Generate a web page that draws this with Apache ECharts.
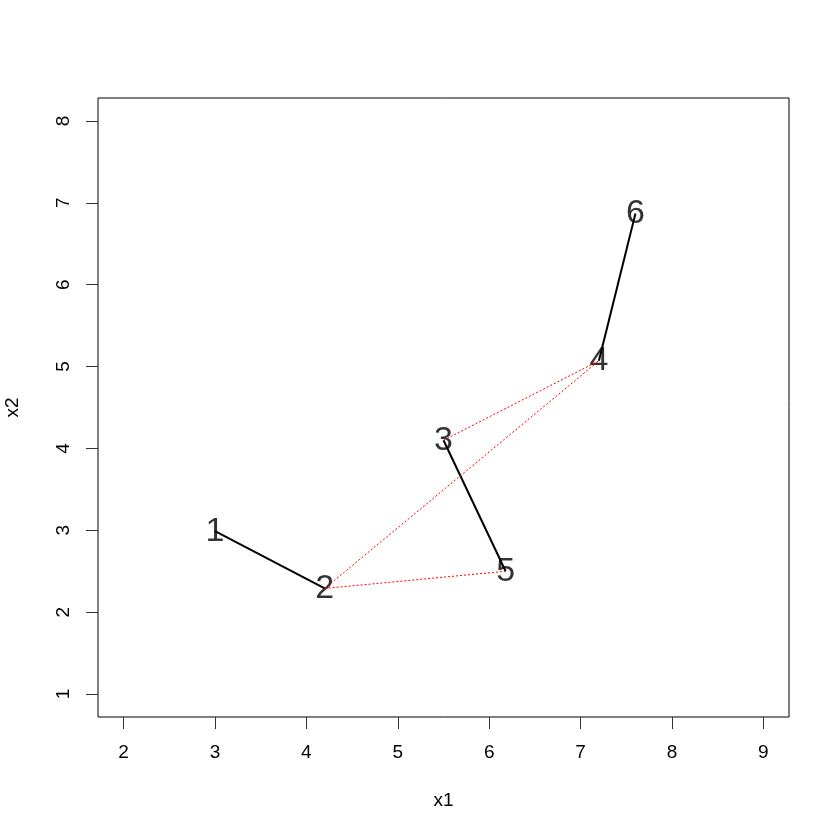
<!DOCTYPE html>
<html>
<head>
<meta charset="utf-8">
<script src="https://cdn.jsdelivr.net/npm/echarts@6/dist/echarts.min.js"></script>
<style>
html,body{margin:0;padding:0;background:#fff;}
#chart{width:840px;height:840px;}
</style>
</head>
<body>
<div id="chart"></div>
<script>
// Point data
const pointLabels = ['1', '2', '3', '4', '5', '6'];
const x1 = [3.0, 4.2, 5.5, 7.2, 6.18, 7.6];
const x2 = [2.99, 2.29, 4.1, 5.07, 2.5, 6.87];
// Segments (indices into the point arrays)
const solidPairs = [[0, 1], [2, 4], [3, 5]];
const dottedPairs = [[1, 3], [1, 4], [2, 3]];
// Tick labels
const xTicks = [2, 3, 4, 5, 6, 7, 8, 9];
const yTicks = [1, 2, 3, 4, 5, 6, 7, 8];

const FONT = 'Liberation Sans, Arial, Helvetica, sans-serif';

const series = [];
series.push({
  type: 'scatter',
  data: x1.map((v, i) => [v, x2[i], pointLabels[i]]),
  symbolSize: 1,
  itemStyle: { color: 'rgba(0,0,0,0)' },
  label: {
    show: true,
    position: 'inside',
    formatter: p => p.data[2],
    fontSize: 34,
    color: '#000',
    fontFamily: FONT
  },
  z: 2,
  silent: true
});
solidPairs.forEach(([a, b]) => {
  series.push({
    type: 'line',
    data: [[x1[a], x2[a]], [x1[b], x2[b]]],
    symbol: 'none',
    lineStyle: { color: '#000', width: 2 },
    z: 3,
    silent: true
  });
});
dottedPairs.forEach(([a, b]) => {
  series.push({
    type: 'line',
    data: [[x1[a], x2[a]], [x1[b], x2[b]]],
    symbol: 'none',
    lineStyle: { color: '#ff0000', width: 1, type: [2, 2] },
    z: 4,
    silent: true
  });
});

const chart = echarts.init(document.getElementById('chart'), null, { renderer: 'canvas' });
chart.setOption({
  backgroundColor: '#fff',
  animation: false,
  grid: {
    left: 98, right: 51, top: 98, bottom: 123,
    containLabel: false,
    outerBoundsMode: 'none',
    show: true, borderColor: '#000', borderWidth: 1, backgroundColor: 'transparent'
  },
  xAxis: {
    type: 'value',
    min: 1.72, max: 9.28,
    name: 'x1',
    nameLocation: 'middle',
    nameGap: 74,
    nameTextStyle: { fontSize: 19, color: '#000', fontFamily: FONT },
    splitLine: { show: false },
    axisLine: { show: false },
    axisTick: { show: true, customValues: xTicks, length: 12, lineStyle: { color: '#333', width: 1 } },
    axisLabel: { customValues: xTicks, margin: 26, fontSize: 19, color: '#000', fontFamily: FONT }
  },
  yAxis: {
    type: 'value',
    min: 0.72, max: 8.28,
    name: 'x2',
    nameLocation: 'middle',
    nameGap: 76,
    nameRotate: 90,
    nameTextStyle: { fontSize: 19, color: '#000', fontFamily: FONT },
    splitLine: { show: false },
    axisLine: { show: false },
    axisTick: { show: true, customValues: yTicks, length: 12, lineStyle: { color: '#333', width: 1 } },
    axisLabel: { customValues: yTicks, margin: 25, rotate: 90, fontSize: 19, color: '#000', fontFamily: FONT }
  },
  series: series
});
</script>
</body>
</html>
